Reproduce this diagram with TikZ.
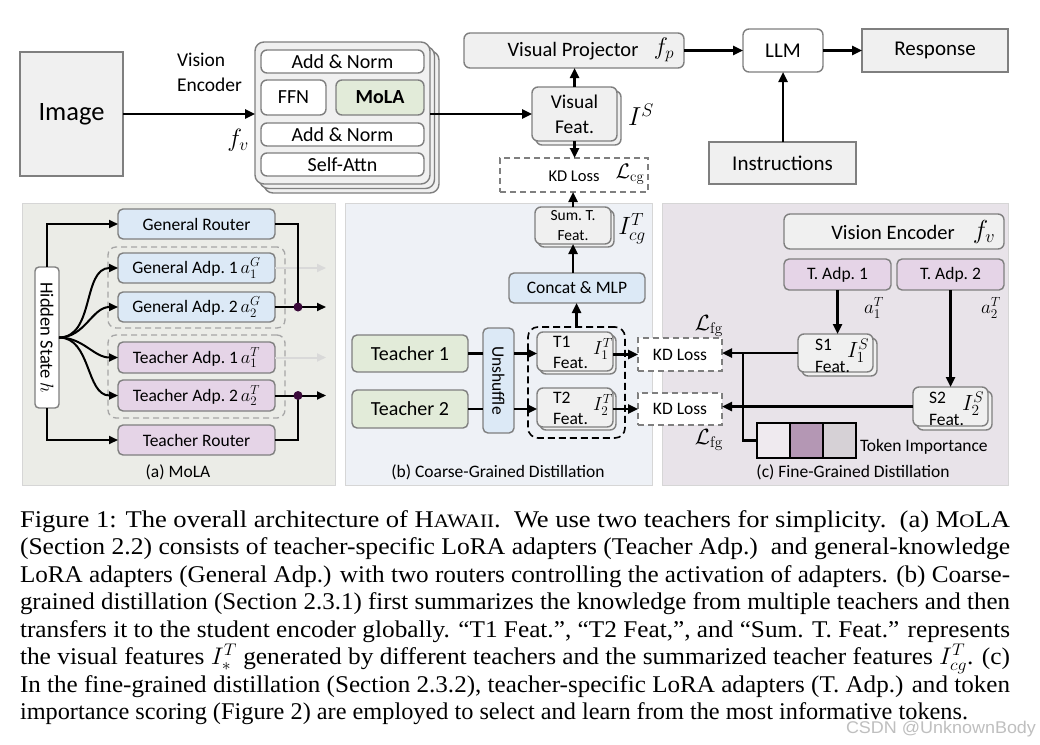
\RequirePackage{fix-cm}
\documentclass[tikz,border=0pt]{standalone}
\usepackage[no-math]{fontspec}
\setmainfont{Carlito}
\newfontfamily\capfont{Liberation Serif}
\newfontfamily\wmfont{Liberation Sans}
\usepackage{graphicx}
\usetikzlibrary{arrows.meta,shadows}

\definecolor{gbord}{HTML}{7F7F7F}
\definecolor{gfill}{HTML}{F0F0F0}
\definecolor{cblue}{HTML}{DCE9F6}
\definecolor{cpurp}{HTML}{E5D4E7}
\definecolor{cgreen}{HTML}{E2EBD9}
\definecolor{panA}{HTML}{EBECE7}
\definecolor{panB}{HTML}{EEF1F6}
\definecolor{panC}{HTML}{E8E3E9}
\definecolor{panBord}{HTML}{D6D6D6}
\definecolor{dotc}{HTML}{3A0A3A}
\definecolor{tokA}{HTML}{EFEAEF}
\definecolor{tokB}{HTML}{B497B4}
\definecolor{tokC}{HTML}{D6D1D6}
\definecolor{lgray}{HTML}{D9D9D9}
\definecolor{dgray}{HTML}{A6A6A6}

\newcommand\fsz[2]{\fontsize{#1}{#2}\selectfont}
\newcommand\bx[7]{\node[#6, minimum width={(#4)-(#2)}, minimum height={(#5)-(#3)}] (#1) at ({((#2)+(#4))/2},{((#3)+(#5))/2}) {#7};}
\newcommand\smallc[1]{{\fontsize{19}{20}\selectfont #1}}

\tikzset{
  every node/.style={inner sep=0pt, outer sep=0pt},
  bord/.style={draw=gbord, line width=1.4pt},
  gbox/.style={bord, fill=gfill},
  gboxr/.style={bord, fill=gfill, rounded corners=6pt},
  wboxr/.style={bord, fill=white, rounded corners=6pt},
  bluebox/.style={bord, fill=cblue, rounded corners=5pt},
  purpbox/.style={bord, fill=cpurp, rounded corners=5pt},
  greenbox/.style={bord, fill=cgreen, rounded corners=5pt},
  stack1/.style={copy shadow={shadow xshift=4pt, shadow yshift=-4pt, fill=gfill, draw=gbord, line width=1.4pt}},
  stack1s/.style={copy shadow={shadow xshift=3pt, shadow yshift=-3pt, fill=gfill, draw=gbord, line width=1.4pt}},
  kdbox/.style={draw=gbord, line width=1.3pt, dash pattern=on 6pt off 4pt, fill=white},
  grp/.style={draw=dgray, line width=1.3pt, dash pattern=on 6pt off 4pt, rounded corners=8pt},
  grpb/.style={draw=black, line width=1.6pt, dash pattern=on 7pt off 4pt, rounded corners=10pt},
  arr/.style={line width=2.4pt, -{Triangle[length=10pt,width=9pt]}},
  arrs/.style={line width=2pt, -{Triangle[length=9pt,width=8pt]}},
  garr/.style={line width=2pt, draw=lgray, -{Triangle[length=9pt,width=8pt]}},
  ln/.style={line width=2.4pt},
  lns/.style={line width=2pt},
  tcell/.style={draw=black, line width=1.5pt},
  ft/.style={font=\fsz{17.5}{21}},
  fm/.style={font=\fsz{20}{24}},
  fb/.style={font=\fsz{21}{25}},
  capline/.style={anchor=base west, font=\capfont\fsz{24}{27}},
}

\begin{document}
\begin{tikzpicture}[x=1pt,y=-1pt]
\useasboundingbox (0,0) rectangle (1040,744);
\fill[white] (0,0) rectangle (1040,744);

% ---------------- top row ----------------
\bx{img}{20}{52}{123}{176}{gbox}{\fsz{26.5}{30}Image}
\node[fm, anchor=north west, align=left, font=\fsz{19.5}{25}] (velab) at (177,53) {Vision\\Encoder};
\node[font=\fsz{25}{30}] (fvlab) at (238,140) {$f_v$};

\bx{enc}{255}{42}{430}{184}{gboxr, rounded corners=9pt, copy shadow={shadow xshift=9pt, shadow yshift=-9pt, fill=gfill, draw=gbord, line width=1.4pt}, copy shadow={shadow xshift=4.5pt, shadow yshift=-4.5pt, fill=gfill, draw=gbord, line width=1.4pt}}{}
\bx{an1}{261}{50}{424}{73}{wboxr, fm}{Add \& Norm}
\bx{ffn}{261}{80}{326}{115}{wboxr, fm}{FFN}
\bx{mola}{336}{80}{424}{115}{wboxr, fill=cgreen, fm}{\textbf{MoLA}}
\bx{an2}{261}{123}{424}{146}{wboxr, fm}{Add \& Norm}
\bx{sa}{261}{153}{424}{176}{wboxr, fm}{Self-Attn}

\bx{vp}{464}{33}{684}{68}{gboxr}{}
\node[font=\fsz{20.5}{24}] (vptext) at (573,51) {Visual Projector};
\node[font=\fsz{24}{28}] (fplab) at (664,50) {$f_p$};

\bx{vf}{532}{87}{617}{141}{gboxr, stack1, align=center, font=\fsz{19.5}{25}}{Visual\\Feat.}
\node[font=\fsz{26}{30}] (islab) at (641,115) {$I^S$};

\bx{llm}{743}{29}{823}{72}{wboxr, fb}{LLM}
\bx{resp}{862}{29}{1008}{72}{gbox, fb}{Response}
\bx{inst}{709}{142}{856}{184}{gbox, fb}{Instructions}

\bx{kdcg}{500}{158}{648}{192}{kdbox}{}
\node[ft, font=\fsz{16.5}{20}] (kdcgt) at (574,176) {KD Loss};
\node[font=\fsz{21}{24}] (lcg) at (630,174) {$\mathcal{L}_{\mathrm{cg}}$};

\draw[arr] (img.east) -- (enc.west |- img.east);
\draw[arr] (enc.east |- vf.west) -- (vf.west);
\draw[arr] (vf.north) -- (vp.south -| vf.north);
\draw[arr] (vp.east) -- (llm.west |- vp.east);
\draw[arr] (llm.east) -- (resp.west);
\draw[arr] (inst.north -| llm.south) -- (llm.south);
\draw[arr] (vf.south) -- (kdcg.north -| vf.south);

% ---------------- panels ----------------
\filldraw[fill=panA, draw=panBord, line width=1pt] (22,203) rectangle (335,485);
\filldraw[fill=panB, draw=panBord, line width=1pt] (345,203) rectangle (652,485);
\filldraw[fill=panC, draw=panBord, line width=1pt] (662,203) rectangle (1008,485);

% ---------------- panel a ----------------
\bx{grpg}{108}{247}{285}{328}{grp}{}
\bx{grpt}{108}{335}{285}{418}{grp}{}
\bx{gr}{118}{209}{275}{239}{bluebox, ft}{General Router}
\bx{ga1}{118}{253}{275}{283}{bluebox, ft}{General Adp.\ 1\,\fsz{18.5}{20}$a_1^G$}
\bx{ga2}{118}{292}{275}{322}{bluebox, ft}{General Adp.\ 2\,\fsz{18.5}{20}$a_2^G$}
\bx{ta1}{118}{342}{275}{373}{purpbox, ft}{Teacher Adp.\ 1\,\fsz{18.5}{20}$a_1^T$}
\bx{ta2}{118}{380}{275}{411}{purpbox, ft}{Teacher Adp.\ 2\,\fsz{18.5}{20}$a_2^T$}
\bx{tr}{118}{425}{275}{455}{purpbox, ft}{Teacher Router}
\bx{hs}{35}{267}{59}{408}{wboxr, rounded corners=4pt}{}
\node[ft, rotate=-90, font=\fsz{18.5}{21}] (hstext) at (hs.center) {Hidden State\,$h$};

\draw[arrs] (hs.north) |- (gr.west);
\draw[arrs] (hs.south) |- (tr.west);
\draw[arrs] (hs.east) to[out=0,in=180] (ga1.west);
\draw[arrs] (hs.east) to[out=0,in=180] (ga2.west);
\draw[arrs] (hs.east) to[out=0,in=180] (ta1.west);
\draw[arrs] (hs.east) to[out=0,in=180] (ta2.west);

\coordinate (d1) at (298,307);
\coordinate (o1) at (326,307);
\coordinate (d2) at (298,395.5);
\coordinate (o2) at (326,395.5);
\coordinate (g1) at (326,268);
\coordinate (g2) at (326,357.5);
\draw[garr] (ga1.east) -- (g1);
\draw[garr] (ta1.east) -- (g2);
\draw[lns] (gr.east) -| (d1);
\draw[lns] (tr.east) -| (d2);
\draw[arrs] (ga2.east) -- (o1);
\draw[arrs] (ta2.east) -- (o2);
\fill[dotc] (d1) circle (4.5pt);
\fill[dotc] (d2) circle (4.5pt);
\node[ft] (alab) at (178,472) {(a) MoLA};

% ---------------- panel b ----------------
\bx{sumt}{535}{207}{611}{244}{gboxr, stack1s, align=center, font=\fsz{15.5}{20}}{Sum.\ T.\\Feat.}
\node[font=\fsz{25}{28}] (icg) at (632,229) {$I^T_{cg}$};
\bx{cmlp}{509}{273}{645}{303}{bluebox, ft}{Concat \& MLP}
\bx{t1}{352}{335}{468}{372}{greenbox, font=\fsz{20}{24}}{Teacher 1}
\bx{t2}{352}{390}{468}{428}{greenbox, font=\fsz{20}{24}}{Teacher 2}
\bx{uns}{483}{328}{514}{433}{bluebox}{}
\node[ft, rotate=-90] (unstext) at (uns.center) {Unshuffle};
\bx{tgrp}{528}{327}{625}{438}{grpb}{}
\bx{t1f}{537}{332}{613}{371}{gboxr, stack1s}{}
\bx{t2f}{537}{388}{613}{427}{gboxr, stack1s}{}
\node[ft, anchor=west] (t1a) at (553,342) {T1};
\node[ft, anchor=west] (t1b) at (553,363) {Feat.};
\node[font=\fsz{19}{22}] (i1t) at (603,349) {$I^T_1$};
\node[ft, anchor=west] (t2a) at (553,398) {T2};
\node[ft, anchor=west] (t2b) at (553,419) {Feat.};
\node[font=\fsz{19}{22}] (i2t) at (603,405) {$I^T_2$};

\draw[ln] (t1.east) -- (uns.west |- t1.east);
\draw[ln] (t2.east) -- (uns.west |- t2.east);
\draw[arr] (uns.east |- t1.east) -- (t1f.west |- t1.east);
\draw[arr] (uns.east |- t2.east) -- (t2f.west |- t2.east);
\draw[arr] (tgrp.north) -- (cmlp.south -| tgrp.north);
\draw[arr] (sumt.south |- cmlp.north) -- (sumt.south);
\draw[arr] (sumt.north) -- (kdcg.south -| sumt.north);
\node[ft] (blab) at (498,472) {(b) Coarse-Grained Distillation};

% ---------------- KD losses ----------------
\bx{kd1}{638}{338}{722}{371}{kdbox, ft}{KD Loss}
\bx{kd2}{638}{393}{722}{425}{kdbox, ft}{KD Loss}
\node[font=\fsz{22}{26}] (lfg1) at (709,326) {$\mathcal{L}_{\mathrm{fg}}$};
\node[font=\fsz{22}{26}] (lfg2) at (709,440) {$\mathcal{L}_{\mathrm{fg}}$};
\draw[arr] (t1f.east |- kd1.west) -- (kd1.west);
\draw[arr] (t2f.east |- kd2.west) -- (kd2.west);

% ---------------- panel c ----------------
\bx{ve}{784}{214}{1004}{249}{gboxr}{}
\node[font=\fsz{20.5}{24}] (vetext) at (893,232) {Vision Encoder};
\node[font=\fsz{26}{30}] (fv2) at (984,232) {$f_v$};
\bx{tad1}{784}{259}{891}{290}{purpbox, ft}{T.\ Adp.\ 1}
\bx{tad2}{897}{259}{1004}{290}{purpbox, ft}{T.\ Adp.\ 2}
\bx{s1}{798}{334}{873}{372}{gboxr, stack1}{}
\bx{s2}{913}{387}{988}{426}{gboxr, stack1}{}
\node[ft, anchor=west] (s1a) at (815,345) {S1};
\node[ft, anchor=west] (s1b) at (815,367) {Feat.};
\node[font=\fsz{22}{26}] (i1s) at (858,351) {$I^S_1$};
\node[ft, anchor=west] (s2a) at (929,398) {S2};
\node[ft, anchor=west] (s2b) at (929,420) {Feat.};
\node[font=\fsz{22}{26}] (i2s) at (973,404) {$I^S_2$};
\node[font=\fsz{19}{22}] (a1t) at (874,308) {$a^T_1$};
\node[font=\fsz{19}{22}] (a2t) at (991,308) {$a^T_2$};

\draw[arr] (tad1.south) -- (s1.north -| tad1.south);
\draw[arr] (tad2.south) -- (s2.north -| tad2.south);
\draw[arr] (s1.west) -- (kd1.east |- s1.west);
\draw[arr] (s2.west) -- (kd2.east |- s2.west);

\bx{tk1}{757}{423}{790}{458}{tcell, fill=tokA}{}
\bx{tk2}{790}{423}{823}{458}{tcell, fill=tokB}{}
\bx{tk3}{823}{423}{856}{458}{tcell, fill=tokC}{}
\coordinate (jt) at (743,353);
\draw[ln] (jt) |- (tk1.west);
\node[ft, anchor=west] (tklab) at (860,447) {Token Importance};
\node[ft] (clab) at (853,472) {(c) Fine-Grained Distillation};

% ---------------- caption ----------------
\node[capline] (c1) at (20,527) {\resizebox{990pt}{\height}{Figure 1: The overall architecture of H\smallc{AWAII}.\ \ We use two teachers for simplicity.\ \ (a) M\smallc{O}LA}};
\node[capline] (c2) at (20,554.5) {\resizebox{990pt}{\height}{(Section 2.2) consists of teacher-specific LoRA adapters (Teacher Adp.)\ \ and general-knowledge}};
\node[capline] (c3) at (20,582) {\resizebox{990pt}{\height}{LoRA adapters (General Adp.) with two routers controlling the activation of adapters. (b) Coarse-}};
\node[capline] (c4) at (20,609.5) {\resizebox{990pt}{\height}{grained distillation (Section 2.3.1) first summarizes the knowledge from multiple teachers and then}};
\node[capline] (c5) at (20,637) {\resizebox{990pt}{\height}{transfers it to the student encoder globally. “T1 Feat.”, “T2 Feat,”, and “Sum. T. Feat.” represents}};
\node[capline] (c6) at (20,664.5) {\resizebox{990pt}{\height}{the visual features $I^T_*$ generated by different teachers and the summarized teacher features $I^T_{cg}$. (c)}};
\node[capline] (c7) at (20,692) {\resizebox{990pt}{\height}{In the fine-grained distillation (Section 2.3.2), teacher-specific LoRA adapters (T. Adp.) and token}};
\node[capline] (c8) at (20,719.5) {\resizebox{948pt}{\height}{importance scoring (Figure 2) are employed to select and learn from the most informative tokens.}};
\node[anchor=base east, font=\wmfont\fsz{17}{20}, text=black!25] (wm) at (1036,733) {\resizebox{190pt}{\height}{CSDN @UnknownBody}};
\end{tikzpicture}
\end{document}
